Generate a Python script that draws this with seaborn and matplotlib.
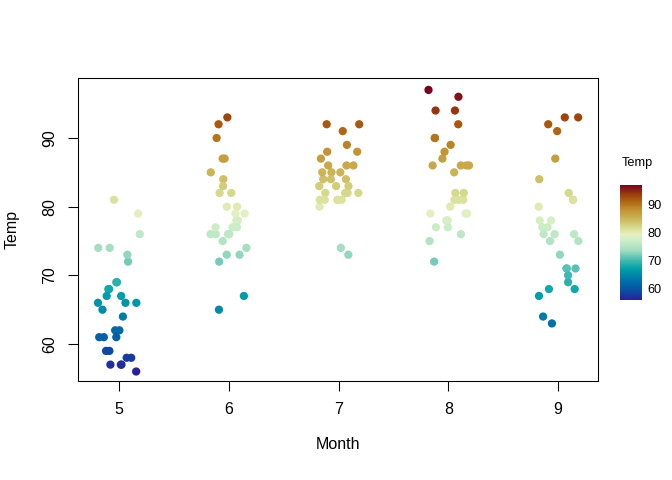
import numpy as np
import pandas as pd
import matplotlib
matplotlib.use("Agg")
import matplotlib.pyplot as plt
from matplotlib.colors import LinearSegmentedColormap, Normalize
from matplotlib.cm import ScalarMappable
import seaborn as sns

# airquality temperatures by month
temp_may = [67, 72, 74, 62, 56, 66, 65, 59, 61, 69, 74, 69, 66, 68, 58, 64, 66, 57,
            68, 62, 59, 73, 61, 61, 57, 58, 57, 67, 81, 79, 76]
temp_jun = [78, 74, 67, 84, 85, 79, 82, 87, 90, 87, 93, 92, 82, 80, 79, 77, 72, 65,
            73, 76, 77, 76, 76, 76, 75, 78, 73, 80, 77, 83]
temp_jul = [84, 85, 81, 84, 83, 83, 88, 92, 92, 89, 82, 73, 81, 91, 80, 81, 82, 84,
            87, 85, 74, 81, 82, 86, 85, 82, 86, 88, 86, 83, 81]
temp_aug = [81, 81, 82, 86, 85, 87, 89, 90, 90, 92, 86, 86, 82, 80, 79, 77, 79, 76,
            78, 78, 77, 72, 75, 79, 81, 86, 88, 97, 94, 96, 94]
temp_sep = [91, 92, 93, 93, 87, 84, 80, 78, 75, 73, 81, 76, 77, 71, 71, 78, 67, 76,
            68, 82, 64, 71, 81, 69, 63, 70, 77, 75, 76, 68]
months = [5, 6, 7, 8, 9]

df = pd.DataFrame({
    "Month": np.repeat(months, [len(temp_may), len(temp_jun), len(temp_jul),
                                len(temp_aug), len(temp_sep)]),
    "Temp": temp_may + temp_jun + temp_jul + temp_aug + temp_sep,
})

cmap = LinearSegmentedColormap.from_list("earthish", [
    (0.00, "#2b1f9c"), (0.08, "#0b4fa2"), (0.17, "#0072aa"), (0.27, "#00a0a8"),
    (0.34, "#3fb8b0"), (0.43, "#a2dcc0"), (0.52, "#cdeec8"), (0.57, "#e6efc0"),
    (0.63, "#d6dc8e"), (0.70, "#cdb75a"), (0.78, "#c29434"), (0.84, "#b2701a"),
    (0.90, "#a24a0a"), (1.00, "#7a0020"),
])
tmin, tmax = min(df["Temp"]), max(df["Temp"])
norm = Normalize(tmin, tmax)

sns.set_style("white")
plt.rcParams["font.family"] = ["Liberation Sans", "DejaVu Sans"]
plt.rcParams["text.color"] = "black"
plt.rcParams["axes.labelcolor"] = "black"
np.random.seed(3)

fig = plt.figure(figsize=(7, 5), dpi=96)
ax = fig.add_axes([0.116, 0.206, 0.774, 0.631])
sns.stripplot(data=df, x="Month", y="Temp", hue="Temp", palette=cmap, hue_norm=norm,
              native_scale=True, jitter=0.2, size=6.2, linewidth=0, legend=False, ax=ax)

ax.set_xlim(4.627, 9.364)
ax.set_ylim(54.6, 98.7)
ax.set_xticks(months)
ax.set_yticks([60, 70, 80, 90])
ax.set_yticklabels(["60", "70", "80", "90"], rotation=90, va="center")
ax.tick_params(axis="both", direction="out", length=7.5, width=0.8, color="black",
               labelcolor="black", labelsize=12, pad=8, bottom=True, left=True)
for s in ax.spines.values():
    s.set_color("black")
    s.set_linewidth(0.8)
ax.set_xlabel("Month", fontsize=12, labelpad=15, color="black")
ax.set_ylabel("Temp", fontsize=12, labelpad=17, color="black")

cax = fig.add_axes([0.923, 0.375, 0.033, 0.24])
cb = fig.colorbar(ScalarMappable(norm=norm, cmap=cmap), cax=cax)
cb.outline.set_visible(False)
cb.set_ticks([60, 70, 80, 90])
cax.tick_params(axis="y", direction="in", length=3, width=0.8, colors="white",
                labelcolor="black", labelsize=9.6, pad=4, left=True, right=True)
fig.text(0.925, 0.648, "Temp", fontsize=9.6, ha="left", va="bottom", color="black")

fig.savefig("out.png", dpi=96)
